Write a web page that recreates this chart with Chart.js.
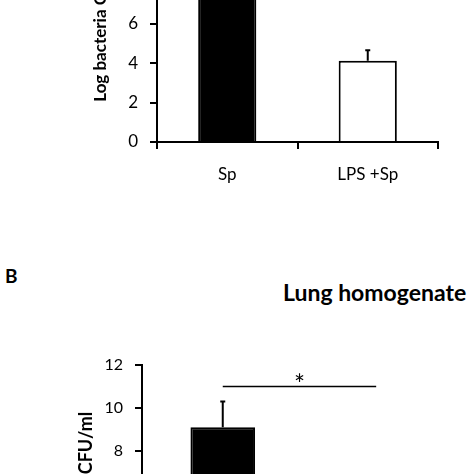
<!DOCTYPE html>
<html>
<head>
<meta charset="utf-8">
<script src="https://cdn.jsdelivr.net/npm/chart.js@4.4.1/dist/chart.umd.min.js"></script>
<style>
  html, body { margin: 0; padding: 0; width: 474px; height: 474px; overflow: hidden; background: #fff; }
  body { position: relative; font-family: Lato, sans-serif; color: #000; }
  canvas { position: absolute; left: 0; }
  #bloodChart { top: -120px; }
  #lungChart { top: 340px; }
  .panel { position: absolute; left: 5px; top: 266px; font-weight: bold; font-size: 19px; line-height: 1; }
  .title { position: absolute; left: 283px; top: 281px; font-weight: bold; font-size: 23px; line-height: 1; white-space: nowrap; }
</style>
</head>
<body>
<canvas id="bloodChart" width="474" height="322"></canvas>
<div class="panel">B</div>
<div class="title">Lung homogenate</div>
<canvas id="lungChart" width="474" height="343"></canvas>
<script>
// groups
var groups = ['Sp', 'LPS +Sp'];

// upper panel (top of the plot is cut off in the figure)
var bloodMeans = [9.3, 4.13];
var bloodErr = [0.8, 0.53];

// panel B, lung homogenate (bottom is cut off)
var lungMeans = [9.11, 5.4];
var lungErr = [1.19, 0.6];
var lungSig = { from: 0, to: 0.95, level: 11.0, label: '*' };

var yTicks = { min: 0, max: 12, step: 2 };
var yTitle = 'Log bacteria CFU/ml';

Chart.defaults.color = '#000';
Chart.defaults.font.family = 'Lato, sans-serif';

// draws the upward error whiskers from dataset.errors
var errorBars = {
    id: 'errorBars',
    afterDatasetsDraw(chart) {
	var ctx = chart.ctx;
	var y = chart.scales.y;
	chart.data.datasets.forEach((ds, di) => {
	    var meta = chart.getDatasetMeta(di);
	    if (!ds.errors) return;
	    ctx.save();
	    ctx.strokeStyle = '#000';
	    ctx.lineWidth = 2;
	    meta.data.forEach((bar, i) => {
		var v = ds.data[i];
		var top = y.getPixelForValue(v + ds.errors[i]);
		var base = y.getPixelForValue(v);
		ctx.beginPath();
		ctx.moveTo(bar.x, base);
		ctx.lineTo(bar.x, top);
		ctx.moveTo(bar.x - 2.5, top);
		ctx.lineTo(bar.x + 2.5, top);
		ctx.stroke();
	    });
	    ctx.restore();
	});
    }
};

// significance line with star
var sigLine = {
    id: 'sigLine',
    afterDatasetsDraw(chart, args, opts) {
	if (!opts || opts.level === undefined) return;
	var ctx = chart.ctx;
	var x1 = chart.scales.x.getPixelForValue(opts.from);
	var x2 = chart.scales.x.getPixelForValue(opts.to);
	var yy = chart.scales.y.getPixelForValue(opts.level);
	ctx.save();
	ctx.strokeStyle = '#000';
	ctx.lineWidth = 1.5;
	ctx.beginPath();
	ctx.moveTo(x1, yy);
	ctx.lineTo(x2, yy);
	ctx.stroke();
	ctx.fillStyle = '#000';
	ctx.font = '26px Lato, sans-serif';
	ctx.textAlign = 'center';
	ctx.textBaseline = 'alphabetic';
	ctx.fillText(opts.label, (x1 + x2) / 2, yy + 7);
	ctx.restore();
    }
};

function makeChart(id, means, errs, cfg) {
    return new Chart(document.getElementById(id), {
	type: 'bar',
	data: {
	    labels: groups,
	    datasets: [{
		data: means,
		errors: errs,
		backgroundColor: ['#000', '#fff'],
		borderColor: '#000',
		borderWidth: 2,
		barPercentage: cfg.barPct,
		categoryPercentage: 1
	    }]
	},
	options: {
	    responsive: false,
	    animation: false,
	    layout: {
		padding: { top: cfg.padTop, left: cfg.padLeft, right: cfg.padRight, bottom: 0 }
	    },
	    scales: {
		x: {
		    afterFit: (s) => { s.height = 60; },
		    grid: {
			display: true,
			drawOnChartArea: false,
			color: '#000',
			lineWidth: 2,
			tickLength: 7
		    },
		    border: { display: true, color: '#000', width: 2 },
		    ticks: { padding: 15, font: { size: cfg.xFont } }
		},
		y: {
		    min: yTicks.min,
		    max: yTicks.max,
		    afterFit: (s) => { s.width = cfg.yWidth; },
		    grid: {
			drawOnChartArea: false,
			color: '#000',
			lineWidth: 2,
			tickLength: 7
		    },
		    border: { display: true, color: '#000', width: 2 },
		    ticks: { stepSize: yTicks.step, padding: 12, font: { size: cfg.yFont } },
		    title: {
			display: true,
			text: yTitle,
			font: { size: cfg.titleFont, weight: 'bold' }
		    }
		}
	    },
	    plugins: {
		legend: { display: false },
		tooltip: { enabled: false },
		sigLine: cfg.sig || {}
	    }
	},
	plugins: [errorBars, sigLine]
    });
}

makeChart('bloodChart', bloodMeans, bloodErr, {
    padTop: 26, padLeft: 86, padRight: 36, yWidth: 71,
    barPct: 0.414, xFont: 17, yFont: 17, titleFont: 17
});

makeChart('lungChart', lungMeans, lungErr, {
    padTop: 25, padLeft: 71, padRight: 9, yWidth: 71,
    barPct: 0.40, xFont: 18, yFont: 16, titleFont: 18, sig: lungSig
});
</script>
</body>
</html>
